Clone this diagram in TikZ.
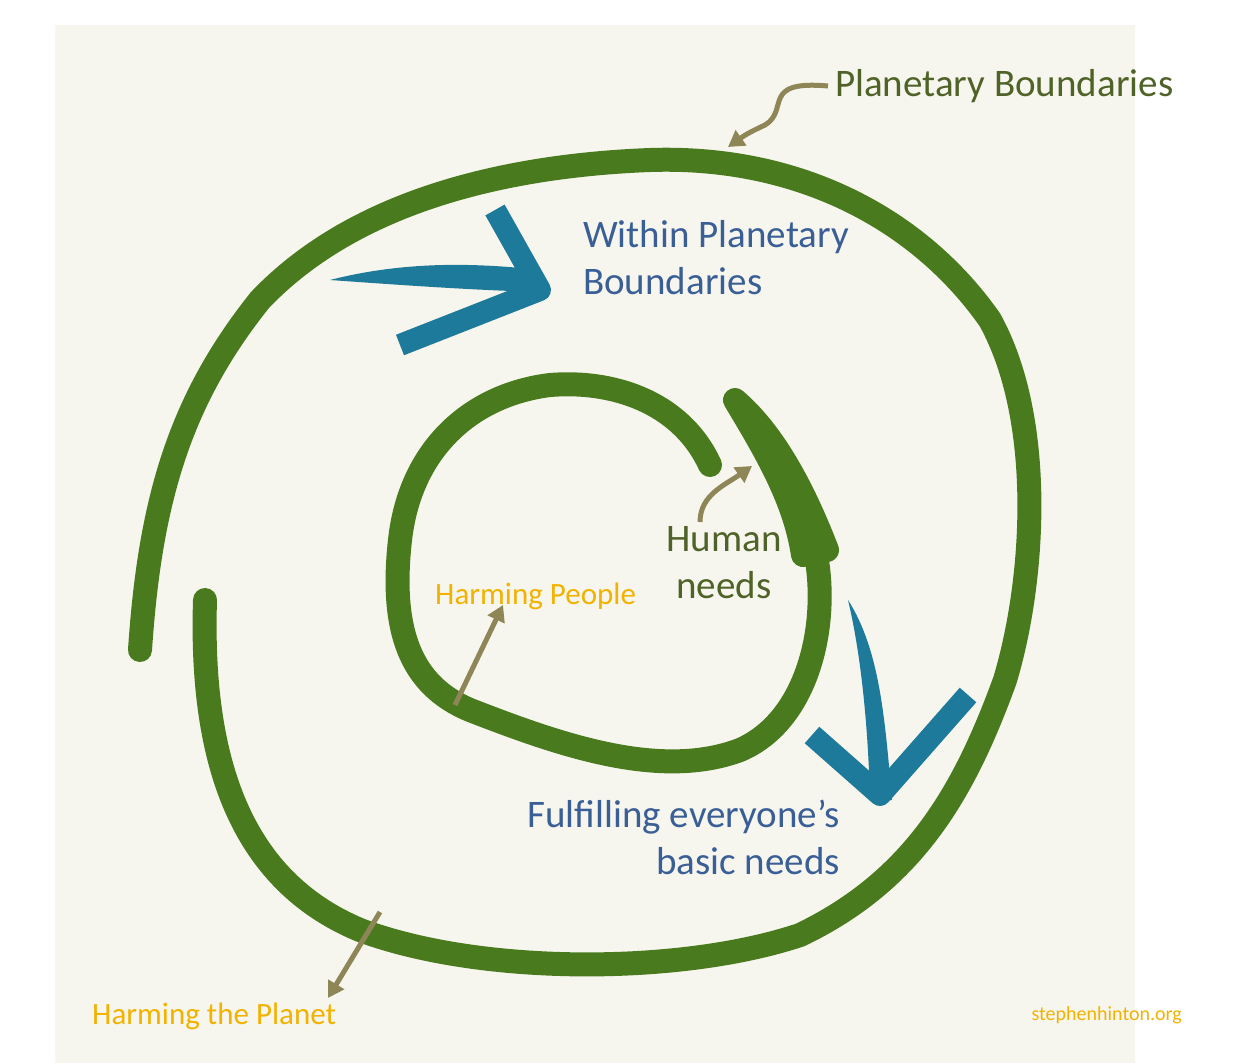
\documentclass[tikz,border=0pt]{standalone}
\usepackage{fontspec}
\setmainfont{Carlito}
\usetikzlibrary{arrows.meta}
\definecolor{paper}{HTML}{F7F6EE}
\definecolor{ring}{HTML}{4A7A1E}
\definecolor{teal}{HTML}{1E7A9A}
\definecolor{olive}{HTML}{8E8656}
\definecolor{dgreen}{HTML}{4F6228}
\definecolor{tblue}{HTML}{3A5F96}
\definecolor{gold}{HTML}{F2B200}
\begin{document}
\begin{tikzpicture}[x=1pt,y=-1pt,
  ring/.style={draw=ring,line width=24pt,line cap=round,line join=round},
  blue/.style={draw=teal,line width=22pt,line cap=butt,line join=round},
  pointer/.style={draw=olive,line width=5pt,-{Triangle[length=16pt,width=18pt]}},
  lbl/.style={font=\fontsize{39}{47}\selectfont,align=left,inner sep=0pt}]
\useasboundingbox (0,0) rectangle (1234,1063);
\fill[paper] (55,25) rectangle (1135,1063);
% outer spiral
\draw[ring] (140,650) .. controls (150,500) and (180,400) .. (260,300)
  .. controls (360,195) and (520,165) .. (650,160)
  .. controls (800,155) and (920,220) .. (990,320)
  .. controls (1045,420) and (1035,580) .. (1005,680)
  .. controls (965,790) and (915,880) .. (800,935)
  .. controls (680,975) and (480,975) .. (360,930)
  .. controls (240,880) and (200,760) .. (205,600);
% inner spiral
\draw[ring] (710,465) .. controls (680,400) and (610,380) .. (550,385)
  .. controls (470,395) and (410,450) .. (400,540)
  .. controls (390,630) and (410,685) .. (470,710)
  .. controls (560,745) and (660,780) .. (740,750)
  .. controls (810,720) and (830,620) .. (815,550);
\fill[ring] (803,555) .. controls (795,500) and (765,450) .. (735,400)
  .. controls (770,430) and (800,480) .. (827,550) -- cycle;
% blue arrows
\fill[teal] (330,280) .. controls (400,262) and (470,262) .. (540,270) -- (540,292) .. controls (470,290) and (400,285) .. (330,280) -- cycle;
\draw[blue] (495,210) -- (540,290) -- (400,345);
\fill[teal] (848,600) .. controls (880,650) and (885,720) .. (892,800) -- (870,800) .. controls (868,720) and (860,650) .. (848,600) -- cycle;
\draw[blue] (812,735) -- (880,795) -- (968,695);
% pointers
\coordinate (pb0) at (828,86); \coordinate (pb1) at (728,147);
\draw[pointer] (pb0) .. controls (760,80) and (790,110) .. (765,125) .. controls (750,132) and (745,135) .. (pb1);
\coordinate (hn0) at (700,522); \coordinate (hn1) at (752,466);
\draw[pointer] (hn0) .. controls (700,495) and (725,485) .. (hn1);
\coordinate (hp0) at (455,705); \coordinate (hp1) at (503,605);
\draw[pointer] (hp0) -- (hp1);
\coordinate (hl0) at (380,912); \coordinate (hl1) at (328,998);
\draw[pointer] (hl0) -- (hl1);
% labels
\node[lbl,text=dgreen,anchor=west] (t1) at (835,86) {Planetary Boundaries};
\node[lbl,text=tblue,anchor=north west] (t2) at (583,220) {Within Planetary\\Boundaries};
\node[lbl,text=dgreen,align=center] (t3) at (724,563) {Human\\needs};
\node[lbl,text=tblue,align=right,anchor=north east] (t4) at (840,800) {Fulfilling everyone’s\\basic needs};
\node[text=gold,font=\fontsize{31}{36}\selectfont,anchor=west,inner sep=0pt] (t5) at (435,596) {Harming People};
\node[text=gold,font=\fontsize{31}{36}\selectfont,anchor=west,inner sep=0pt] (t6) at (92,1016) {Harming the Planet};
\node[text=gold,font=\fontsize{20}{24}\selectfont,anchor=east,inner sep=0pt] (t7) at (1182,1015) {stephenhinton.org};
\end{tikzpicture}
\end{document}
